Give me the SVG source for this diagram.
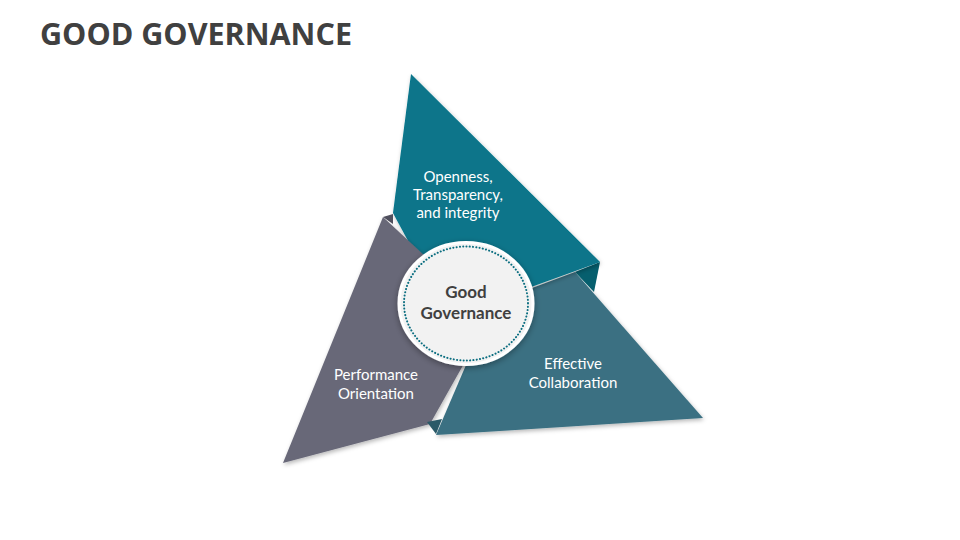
<svg xmlns="http://www.w3.org/2000/svg" width="960" height="540" viewBox="0 0 960 540">
<defs>
<filter id="sh" x="-20%" y="-20%" width="140%" height="140%">
<feDropShadow dx="1" dy="2" stdDeviation="2" flood-color="#000" flood-opacity="0.28"/>
</filter>
<filter id="csh" x="-20%" y="-20%" width="140%" height="140%">
<feDropShadow dx="0" dy="2" stdDeviation="3" flood-color="#000" flood-opacity="0.35"/>
</filter>
</defs>
<style>
.title{font-family:"Open Sans","Liberation Sans",sans-serif;font-weight:700;font-size:30px;fill:#404040}
.lbl{font-family:Lato,"Liberation Sans",sans-serif;font-size:15px;fill:#ffffff;text-anchor:middle}
.ctr{font-family:Lato,"Liberation Sans",sans-serif;font-weight:700;font-size:17px;fill:#404040;text-anchor:middle}
</style>
<rect width="960" height="540" fill="#ffffff"/>
<text class="title" x="40" y="45" textLength="312" lengthAdjust="spacingAndGlyphs">GOOD GOVERNANCE</text>

<g id="effective-collaboration">
<polygon points="436,435 703,418 575,272 500,300 466,365" fill="#3a7082" filter="url(#sh)"/>
<polygon points="575,272 600,262 594,292" fill="#065f6e"/>
<text class="lbl" x="573" y="369">Effective</text>
<text class="lbl" x="573" y="388">Collaboration</text>
</g>

<g id="openness">
<polygon points="411,74 600,262 520,291 440,300 393,213" fill="#07758a" filter="url(#sh)"/>
<text class="lbl" x="458" y="182">Openness,</text>
<text class="lbl" x="458" y="200">Transparency,</text>
<text class="lbl" x="458" y="218">and integrity</text>
</g>

<g id="performance-orientation">
<polygon points="383,217 393,214 393,224" fill="#50505e"/>
<polygon points="383,217 283,463 430,424 466,360 440,270" fill="#686878" filter="url(#sh)"/>
<polygon points="427,422 442,419 436,434" fill="#2b5a68"/>
<text class="lbl" x="376" y="380">Performance</text>
<text class="lbl" x="376" y="399">Orientation</text>
</g>

<g id="good-governance">
<ellipse cx="466" cy="303.5" rx="67" ry="61" fill="#f2f2f2" stroke="#ffffff" stroke-width="3" filter="url(#csh)"/>
<ellipse cx="466" cy="303.5" rx="62" ry="57" fill="none" stroke="#0b6e80" stroke-width="2" stroke-dasharray="0.1 3.2" stroke-linecap="round"/>
<text class="ctr" x="466" y="298">Good</text>
<text class="ctr" x="466" y="319">Governance</text>
</g>
<g id="connectors"/>
</svg>
